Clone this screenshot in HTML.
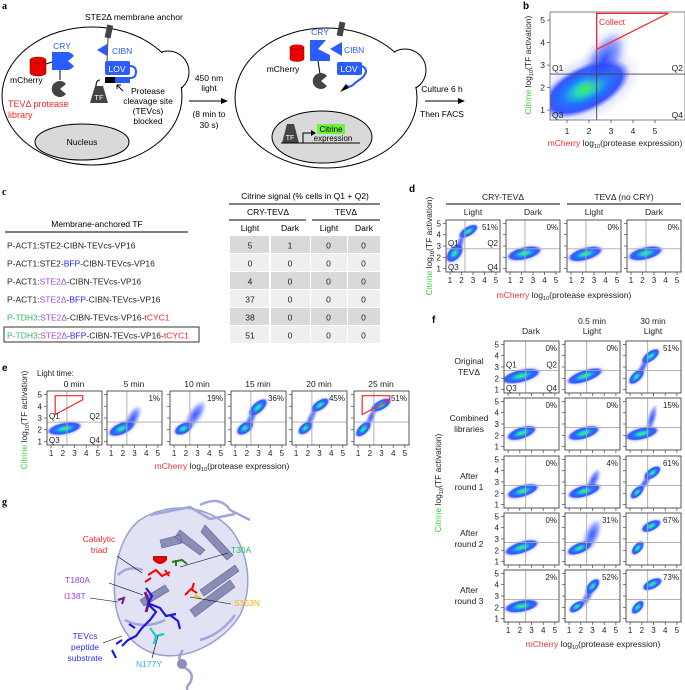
<!DOCTYPE html>
<html><head><meta charset="utf-8">
<style>
html,body{margin:0;padding:0;background:#fff;}
svg{display:block;font-family:"Liberation Sans",Arial,sans-serif;}
</style></head>
<body>
<svg id="fig" width="685" height="690" viewBox="0 0 685 690" xmlns="http://www.w3.org/2000/svg">
<defs>
<radialGradient id="dense"><stop offset="0" stop-color="#4cf03c"/><stop offset="0.22" stop-color="#22d8c0"/><stop offset="0.5" stop-color="#1f7aff"/><stop offset="0.8" stop-color="#1436ff" stop-opacity="0.8"/><stop offset="1" stop-color="#5a68ff" stop-opacity="0"/></radialGradient>
<radialGradient id="sparse"><stop offset="0" stop-color="#1e3cff" stop-opacity="0.75"/><stop offset="0.6" stop-color="#3050ff" stop-opacity="0.4"/><stop offset="1" stop-color="#6070ff" stop-opacity="0"/></radialGradient>
<radialGradient id="halo"><stop offset="0" stop-color="#2a48ff" stop-opacity="0.45"/><stop offset="0.6" stop-color="#4a60ff" stop-opacity="0.25"/><stop offset="1" stop-color="#7080ff" stop-opacity="0"/></radialGradient>
</defs>

<!-- Panel a: schematic -->
<g>
<text x="2" y="9" font-size="10" font-weight="bold" font-family="Liberation Serif">a</text>
<circle cx="168" cy="72" r="21" fill="#fff" stroke="#000"/>
<ellipse cx="92" cy="96" rx="90" ry="69" fill="#fff" stroke="#000"/>
<circle cx="168" cy="72" r="20" fill="#fff"/>
<ellipse cx="82" cy="142" rx="47" ry="18" fill="#d9d9d9" stroke="#000"/>
<text x="82" y="145" font-size="8.5" text-anchor="middle">Nucleus</text>
<text x="85" y="20" font-size="8.5">STE2Δ membrane anchor</text>
<rect x="106" y="25" width="6" height="13" fill="#444" transform="rotate(12 109 31)"/>
<line x1="108" y1="38" x2="107" y2="62" stroke="#444"/>
<text x="62" y="49" font-size="8.5" fill="#2b5cff" text-anchor="middle">CRY</text>
<path d="M52,52 h16 a9,9 0 0 1 6,4 l-6,5 l6,5 a9,9 0 0 1 -6,4 h-16 z" fill="#2b5cff"/>
<ellipse cx="38" cy="60" rx="8" ry="3" fill="#e00" stroke="#600" stroke-width="0.5"/>
<path d="M30,60 v13 a8,3 0 0 0 16,0 v-13 a8,3 0 0 1 -16,0z" fill="#e00" stroke="#600" stroke-width="0.5"/>
<line x1="46" y1="64" x2="52" y2="62" stroke="#000"/>
<text x="10" y="83" font-size="8.5">mCherry</text>
<line x1="60" y1="70" x2="60" y2="80" stroke="#000"/>
<path d="M66,84 A8,8 0 1 0 66,94 L60,89 Z" fill="#444"/>
<text x="8" y="107" font-size="9" fill="#f22">TEVΔ protease</text>
<text x="8" y="118" font-size="9" fill="#f22">library</text>
<polygon points="97,50 107,44 107,56" fill="#2b5cff"/>
<text x="112" y="54" font-size="8.5" fill="#2b5cff">CIBN</text>
<rect x="105" y="61" width="25" height="14" rx="2" fill="#2b5cff"/>
<text x="117" y="72" font-size="8.5" fill="#fff" text-anchor="middle">LOV</text>
<path d="M130,66 q6,0 6,6 q0,6 -6,6" fill="none" stroke="#2b5cff" stroke-width="2"/>
<rect x="105" y="77" width="10" height="6" fill="#000"/>
<rect x="115" y="77" width="15" height="6" fill="#2b5cff"/>
<path d="M100,80 q-4,0 -4,6" fill="none" stroke="#000"/>
<polygon points="95,86 103,86 108,103 90,103" fill="#444"/>
<text x="99" y="100" font-size="7.5" fill="#fff" text-anchor="middle">TF</text>
<path d="M123,91 l-6,-6 M117,85 l0,4 M117,85 l4,0" stroke="#000" fill="none"/>
<text x="148" y="94" font-size="8.5" text-anchor="middle">Protease</text>
<text x="148" y="104" font-size="8.5" text-anchor="middle">cleavage site</text>
<text x="148" y="114" font-size="8.5" text-anchor="middle">(TEVcs)</text>
<text x="148" y="124" font-size="8.5" text-anchor="middle">blocked</text>
<text x="209" y="81" font-size="8.5" text-anchor="middle">450 nm</text>
<text x="209" y="91" font-size="8.5" text-anchor="middle">light</text>
<line x1="189" y1="101" x2="222" y2="101" stroke="#000"/>
<polygon points="228,101 221,98 221,104"/>
<text x="209" y="117" font-size="8.5" text-anchor="middle">(8 min to</text>
<text x="209" y="128" font-size="8.5" text-anchor="middle">30 s)</text>

<circle cx="405" cy="70" r="21" fill="#fff" stroke="#000"/>
<ellipse cx="326" cy="98" rx="91" ry="70" fill="#fff" stroke="#000"/>
<circle cx="405" cy="70" r="20" fill="#fff"/>
<ellipse cx="322" cy="137" rx="50" ry="26" fill="#d9d9d9" stroke="#000"/>
<polygon points="287,124 294,124 299,143 282,143" fill="#444"/>
<text x="290" y="140" font-size="7" fill="#fff" text-anchor="middle">TF</text>
<path d="M303,143 v-10 h9" fill="none" stroke="#000"/>
<polygon points="316,133 311,130 311,136"/>
<line x1="281" y1="143" x2="360" y2="143" stroke="#000"/>
<rect x="317" y="124" width="28" height="10" fill="#6cf23c"/>
<text x="331" y="132" font-size="8" text-anchor="middle">Citrine</text>
<text x="333" y="141" font-size="8" text-anchor="middle">expression</text>
<rect x="338" y="22" width="6" height="14" fill="#444" transform="rotate(12 341 29)"/>
<text x="320" y="35" font-size="8.5" fill="#2b5cff" text-anchor="middle">CRY</text>
<path d="M310,40 h16 l-8,9 l12,6 v6 h-20 z" fill="#2b5cff"/>
<polygon points="330,49 342,42 342,56" fill="#2b5cff"/>
<text x="344" y="53" font-size="8.5" fill="#2b5cff">CIBN</text>
<ellipse cx="297" cy="47" rx="7" ry="2.5" fill="#e00"/>
<path d="M290,47 v12 a7,2.5 0 0 0 14,0 v-12 a7,2.5 0 0 1 -14,0z" fill="#e00" stroke="#600" stroke-width="0.5"/>
<text x="283" y="72" font-size="8.5" text-anchor="middle">mCherry</text>
<line x1="318" y1="61" x2="320" y2="74" stroke="#000"/>
<path d="M327,76 A8,8 0 1 0 327,86 L321,81 Z" fill="#444"/>
<rect x="337" y="62" width="25" height="13" rx="2" fill="#2b5cff"/>
<text x="349" y="72" font-size="8.5" fill="#fff" text-anchor="middle">LOV</text>
<path d="M362,66 q8,4 0,12 q-6,4 -8,6 q-4,4 -8,2" fill="none" stroke="#2b5cff" stroke-width="2.2"/>
<polygon points="346,84 340,92 349,88" fill="#000"/>
<text x="442" y="92" font-size="8.5" text-anchor="middle">Culture 6 h</text>
<line x1="425" y1="101" x2="459" y2="101" stroke="#000"/>
<polygon points="465,101 458,98 458,104"/>
<text x="442" y="117" font-size="8.5" text-anchor="middle">Then FACS</text>
</g>

<!-- Panel c table -->
<g id="tableC">
<text x="2" y="195" font-size="10" font-weight="bold" font-family="Liberation Serif">c</text>
<text x="305" y="199" font-size="8.5" text-anchor="middle">Citrine signal (% cells in Q1 + Q2)</text>
<line x1="229" y1="204" x2="380" y2="204" stroke="#000"/>
<text x="268" y="215" font-size="8.5" text-anchor="middle">CRY-TEVΔ</text>
<line x1="229" y1="220" x2="306" y2="220" stroke="#000"/>
<text x="346" y="215" font-size="8.5" text-anchor="middle">TEVΔ</text>
<line x1="312" y1="220" x2="380" y2="220" stroke="#000"/>
<text x="250" y="231" font-size="8.5" text-anchor="middle">Light</text>
<text x="290" y="231" font-size="8.5" text-anchor="middle">Dark</text>
<text x="329" y="231" font-size="8.5" text-anchor="middle">Light</text>
<text x="364" y="231" font-size="8.5" text-anchor="middle">Dark</text>
<text x="97" y="227" font-size="8.5" text-anchor="middle">Membrane-anchored TF</text>
<line x1="5" y1="232" x2="188" y2="232" stroke="#000"/>
</g>

<!-- Panel g protein -->
<g>
<text x="2" y="505" font-size="10" font-weight="bold" font-family="Liberation Serif">g</text>
<path d="M140,520 C120,535 112,570 115,600 C118,630 135,650 160,655 C190,660 225,640 240,615 C252,590 250,560 235,535 C215,505 170,500 140,520Z" fill="#c9cbea" fill-opacity="0.55" stroke="#9a9ed0" stroke-width="1.5"/>
<path d="M150,515 l40,-8 l20,12 l25,-5 M200,505 q20,-10 30,5 l20,10 M118,575 q10,-10 25,-5 M125,620 q20,10 40,0 M200,640 q20,-5 35,-25" fill="none" stroke="#a3a7d8" stroke-width="2.5"/>
<path d="M180,530 l25,20 l-5,5 l-25,-18z M205,525 l28,30 l-6,5 l-26,-28z M160,540 l20,-5 l2,8 l-20,5z M140,600 l25,-15 l4,6 l-25,15z M190,610 l40,-30 l5,7 l-40,30z M200,590 l35,-25 l4,6 l-35,25z" fill="#8a8db5" stroke="#5f6290" stroke-width="0.6"/>
<path d="M183,650 q-8,10 2,18 q10,5 5,15 q-5,5 -2,7" fill="none" stroke="#9ea2d4" stroke-width="2.5"/>
<circle cx="182" cy="664" r="5" fill="#8a8ec0"/>
<path d="M153,560 q7,8 14,0 v-4 h-14z" fill="#d00"/>
<path d="M148,575 l8,-5 l6,6 l8,-4 M145,582 l6,-4 M165,570 l4,6" stroke="#f00" stroke-width="2" fill="none"/>
<path d="M185,595 l6,-6 l6,4 M192,589 l2,-6" stroke="#f00" stroke-width="2" fill="none"/>
<path d="M195,595 l6,4" stroke="#f0c000" stroke-width="2"/>
<path d="M172,562 l10,-2 l5,4 M176,560 l0,6" stroke="#2a7a2a" stroke-width="2" fill="none"/>
<path d="M145,592 l4,10 l-3,10" stroke="#7a1a7a" stroke-width="3" fill="none"/>
<path d="M118,600 l6,-2 l-2,6" stroke="#7a1a7a" stroke-width="2" fill="none"/>
<path d="M146,588 l6,8 l-4,8 l8,8 l-6,8 l-8,8 l-6,8 l-8,4 l-6,6 M150,604 l10,4 l6,8 l10,-2 M135,628 l-6,-4 M122,640 l-6,4 M112,650 l4,8 M170,615 l8,6 l2,8" stroke="#1a1ad8" stroke-width="2.2" fill="none"/>
<path d="M150,628 l6,8 l8,-2 M156,636 l-2,8" stroke="#20c8c8" stroke-width="2.2" fill="none"/>
<text x="99" y="542" font-size="8.5" fill="#f22" text-anchor="middle">Catalytic</text>
<text x="99" y="553" font-size="8.5" fill="#f22" text-anchor="middle">triad</text>
<line x1="117" y1="556" x2="142" y2="573" stroke="#000" stroke-width="0.6"/>
<text x="231" y="553" font-size="8.5" fill="#2fb868">T30A</text>
<line x1="228" y1="553" x2="180" y2="567" stroke="#000" stroke-width="0.6"/>
<text x="65" y="583" font-size="8.5" fill="#a040e0">T180A</text>
<line x1="109" y1="583" x2="143" y2="595" stroke="#000" stroke-width="0.6"/>
<text x="64" y="599" font-size="8.5" fill="#a040e0">I138T</text>
<line x1="90" y1="598" x2="118" y2="602" stroke="#000" stroke-width="0.6"/>
<text x="234" y="606" font-size="8.5" fill="#f0b800">S153N</text>
<line x1="231" y1="604" x2="190" y2="597" stroke="#000" stroke-width="0.6"/>
<text x="85" y="639" font-size="8.5" fill="#3030ff" text-anchor="middle">TEVcs</text>
<text x="85" y="650" font-size="8.5" fill="#3030ff" text-anchor="middle">peptide</text>
<text x="85" y="661" font-size="8.5" fill="#3030ff" text-anchor="middle">substrate</text>
<line x1="103" y1="643" x2="122" y2="636" stroke="#000" stroke-width="0.6"/>
<text x="149" y="667" font-size="8.5" fill="#20b8e8" text-anchor="middle">N177Y</text>
<line x1="152" y1="658" x2="158" y2="636" stroke="#000" stroke-width="0.6"/>
</g>
</svg>

<script>
// ---------- data ----------
const tableRows = ['P-ACT1:STE2-CIBN-TEVcs-VP16','P-ACT1:STE2-BFP-CIBN-TEVcs-VP16','P-ACT1:STE2Δ-CIBN-TEVcs-VP16','P-ACT1:STE2Δ-BFP-CIBN-TEVcs-VP16','P-TDH3:STE2Δ-CIBN-TEVcs-VP16-tCYC1','P-TDH3:STE2Δ-BFP-CIBN-TEVcs-VP16-tCYC1'];
const tableCryLight = [5, 0, 4, 37, 38, 51];
const tableCryDark = [1, 0, 0, 0, 0, 0];
const tableTevLight = [0, 0, 0, 0, 0, 0];
const tableTevDark = [0, 0, 0, 0, 0, 0];

const axisTicks = [1, 2, 3, 4, 5];
// cluster = [x1,y1,x2,y2,width,dense]  (log10 units)
const bClusters = [[0.7,1.4,3.0,2.5,1.1,1],[2.3,2.6,3.1,3.9,0.7,0]];
const bGate = [[2.35,5.3],[5.6,5.3],[2.35,3.7]];
const bThreshX = 2.35, bThreshY = 2.6;

const dGroups = ['CRY-TEVΔ','TEVΔ (no CRY)'];
const dConds = ['Light','Dark','Light','Dark'];
const dPct = [51, 0, 0, 0];
const dClusters = [
  [[1.1,2.0,1.7,2.7,0.6,1],[2.1,4.0,3.1,4.6,0.45,1],[1.7,2.7,2.1,3.9,0.3,0]],
  [[1.2,2.1,3.3,2.6,0.6,1]],
  [[1.2,2.0,3.3,2.6,0.6,1]],
  [[1.2,2.1,3.3,2.6,0.6,1]]
];

const eTimes = ['0 min','5 min','10 min','15 min','20 min','25 min'];
const ePct = [null, 1, 19, 36, 45, 51];
const eClusters = [
  [[1.1,1.9,3.2,2.3,0.55,1]],
  [[1.2,1.8,2.6,2.4,0.55,1],[2.5,2.3,3.2,3.6,0.5,0]],
  [[1.4,1.9,2.2,2.3,0.5,1],[2.3,2.5,3.3,4.0,0.55,0]],
  [[1.5,1.9,2.2,2.4,0.5,1],[2.5,3.5,3.4,4.3,0.5,1],[2.1,2.4,2.6,3.4,0.35,0]],
  [[1.5,1.9,2.1,2.4,0.45,1],[2.6,3.8,3.5,4.4,0.45,1],[2.0,2.4,2.6,3.7,0.3,0]],
  [[1.1,1.7,1.8,2.4,0.45,1],[2.4,3.8,3.5,4.4,0.45,1],[1.8,2.4,2.4,3.7,0.3,0]]
];
const eGate = [[1.35,4.9],[3.7,4.9],[3.7,4.55],[1.35,3.3]];

const fCols = ['Dark','0.5 min|Light','30 min|Light'];
const fRows = ['Original|TEVΔ','Combined|libraries','After|round 1','After|round 2','After|round 3'];
const fPct = [[0,0,51],[0,0,15],[0,4,61],[0,31,67],[2,52,73]];
const fClusters = [
  [[[0.9,1.9,3.3,2.5,0.6,1]], [[1.2,1.8,3.5,2.6,0.55,1]], [[1.2,1.8,1.9,2.5,0.45,1],[2.3,3.6,3.2,4.3,0.45,1],[1.8,2.5,2.4,3.5,0.3,0]]],
  [[[1.3,1.9,3.0,2.5,0.55,1]], [[1.3,1.9,3.2,2.5,0.55,1]], [[1.0,1.9,3.0,2.4,0.55,1],[2.6,2.6,3.1,4.4,0.35,0]]],
  [[[1.3,1.9,3.2,2.5,0.55,1]], [[1.3,1.9,3.3,2.5,0.55,1],[2.8,2.6,3.4,3.8,0.4,0]], [[1.3,1.8,1.9,2.4,0.4,1],[2.5,3.5,3.3,4.1,0.45,1],[1.9,2.4,2.6,3.4,0.3,0]]],
  [[[1.1,1.9,3.2,2.6,0.55,1]], [[1.2,1.9,2.6,2.5,0.5,1],[2.6,2.5,3.3,4.2,0.6,0]], [[1.4,1.9,1.9,2.5,0.4,1],[2.3,3.9,3.3,4.4,0.45,1]]],
  [[[1.1,1.9,3.2,2.3,0.55,1]], [[1.3,1.8,2.0,2.3,0.4,1],[2.7,3.5,3.3,4.2,0.45,1],[2.2,2.3,2.9,3.5,0.35,0]], [[1.4,1.7,1.9,2.3,0.4,1],[2.4,3.8,3.4,4.3,0.45,1]]]
];

// ---------- helpers ----------
const NS = 'http://www.w3.org/2000/svg';
const svg = document.getElementById('fig');
function el(tag, attrs, name, parent) {
  const e = document.createElementNS(NS, tag);
  for (const k in attrs) e.setAttribute(k, attrs[k]);
  
  
  (parent || svg).appendChild(e);
  return e;
}
function txt(x, y, s, size, fill, anchor, name, parent) {
  const t = el('text', {x: x, y: y, 'font-size': size, fill: fill || '#222', 'text-anchor': anchor || 'start'}, name, parent);
  t.textContent = s;
  return t;
}
function scale(px, py, w, h, dom) {
  return {
    x: v => px + (v - dom[0]) / (dom[1] - dom[0]) * w,
    y: v => py + h - (v - dom[2]) / (dom[3] - dom[2]) * h
  };
}
function drawCluster(c, s, g) {
  const x1 = s.x(c[0]), y1 = s.y(c[1]), x2 = s.x(c[2]), y2 = s.y(c[3]);
  const wpx = Math.abs(s.x(c[4]) - s.x(0));
  const len = Math.hypot(x2 - x1, y2 - y1);
  const ang = Math.atan2(y2 - y1, x2 - x1) * 180 / Math.PI;
  const cx = (x1 + x2) / 2, cy = (y1 + y2) / 2;
  const rot = 'rotate(' + ang + ' ' + cx + ' ' + cy + ')';
  el('ellipse', {cx: cx, cy: cy, rx: len / 2 + wpx * 1.3, ry: wpx * 1.35, fill: 'url(#halo)', transform: rot}, 'population-halo', g);
  el('ellipse', {cx: cx, cy: cy, rx: len / 2 + wpx * 0.85, ry: wpx * 0.95, fill: 'url(#' + (c[5] ? 'dense' : 'sparse') + ')', transform: rot}, 'cell-population', g);
}
function vlabel(x, y, size, name) {
  const t = el('text', {x: x, y: y, 'font-size': size, 'text-anchor': 'middle', transform: 'rotate(-90 ' + x + ' ' + y + ')', fill: '#222'}, name);
  const a = el('tspan', {fill: '#3ad23a'}, 'citrine-word', t); a.textContent = 'Citrine ';
  const b = el('tspan', {}, 'log-word', t); b.textContent = 'log';
  const c = el('tspan', {'font-size': size * 0.65, dy: 2}, 'log-subscript', t); c.textContent = '10';
  const d = el('tspan', {dy: -2}, 'tf-activation-word', t); d.textContent = '(TF activation)';
}
function hlabel(x, y, size, name) {
  const t = el('text', {x: x, y: y, 'font-size': size, 'text-anchor': 'middle', fill: '#222'}, name);
  const a = el('tspan', {fill: '#f03030'}, 'mcherry-word', t); a.textContent = 'mCherry ';
  const b = el('tspan', {}, 'log-word', t); b.textContent = 'log';
  const c = el('tspan', {'font-size': size * 0.65, dy: 2}, 'log-subscript', t); c.textContent = '10';
  const d = el('tspan', {dy: -2}, 'protease-word', t); d.textContent = '(protease expression)';
}
const smallDom = [0.65, 5.35, 0.7, 5.3];
function panel(o) {
  const g = el('g', {}, o.name);
  const s = scale(o.x, o.y, o.w, o.h, o.dom || smallDom);
  const clipId = 'clip' + Math.round(o.x) + '_' + Math.round(o.y);
  const cp = el('clipPath', {id: clipId}, 'panel-clip', g);
  el('rect', {x: o.x, y: o.y, width: o.w, height: o.h}, 'clip-rect', cp);
  const inner = el('g', {'clip-path': 'url(#' + clipId + ')'}, 'plot-area', g);
  o.clusters.forEach(c => drawCluster(c, s, inner));
  el('line', {x1: o.x, x2: o.x + o.w, y1: s.y(o.ty), y2: s.y(o.ty), stroke: o.dark ? '#444' : '#aaa', 'stroke-width': 0.9}, 'threshold-horizontal', inner);
  el('line', {y1: o.y, y2: o.y + o.h, x1: s.x(o.tx), x2: s.x(o.tx), stroke: o.dark ? '#444' : '#aaa', 'stroke-width': 0.9}, 'threshold-vertical', inner);
  if (o.gate) el('polygon', {points: o.gate.map(p => s.x(p[0]) + ',' + s.y(p[1])).join(' '), fill: 'none', stroke: '#f22', 'stroke-width': 1.2}, 'collect-gate', inner);
  el('rect', {x: o.x, y: o.y, width: o.w, height: o.h, fill: 'none', stroke: o.dark ? '#777' : '#444', 'stroke-width': 0.9}, 'panel-frame', g);
  const fs = o.fs || 8;
  axisTicks.forEach(v => {
    el('line', {x1: o.x - 3, x2: o.x, y1: s.y(v), y2: s.y(v), stroke: '#444', 'stroke-width': 0.7}, 'y-tick', g);
    if (o.yl) txt(o.x - 5, s.y(v) + 3, String(v), fs, '#222', 'end', 'y-tick-label', g);
    el('line', {y1: o.y + o.h, y2: o.y + o.h + 3, x1: s.x(v), x2: s.x(v), stroke: '#444', 'stroke-width': 0.7}, 'x-tick', g);
    if (o.xl) txt(s.x(v), o.y + o.h + (o.xOff || 11), String(v), fs, '#222', 'middle', 'x-tick-label', g);
  });
  if (o.pct !== null && o.pct !== undefined) txt(o.x + o.w - 2, o.y + 10, o.pct + '%', 8, '#222', 'end', 'percent-label', g);
  if (o.quads) {
    txt(o.x + 2, s.y(o.ty) - 3, 'Q1', fs, '#222', 'start', 'q1-label', g);
    txt(o.x + o.w - 2, s.y(o.ty) - 3, 'Q2', fs, '#222', 'end', 'q2-label', g);
    txt(o.x + 2, o.y + o.h - 2, 'Q3', fs, '#222', 'start', 'q3-label', g);
    txt(o.x + o.w - 2, o.y + o.h - 2, 'Q4', fs, '#222', 'end', 'q4-label', g);
  }
  return g;
}

// ---------- table c ----------
const tg = document.getElementById('tableC');
const colX = [230, 270, 310, 347, 380];
const colored = {'STE2Δ': '#9a4cd6', 'BFP': '#2424ff', 'tCYC1': '#f22', 'P-TDH3': '#2fb868'};
tableRows.forEach((r, i) => {
  const top = 236 + i * 18;
  const vals = [tableCryLight[i], tableCryDark[i], tableTevLight[i], tableTevDark[i]];
  vals.forEach((v, j) => {
    el('rect', {x: colX[j] + (j ? 1 : 0), y: top, width: colX[j + 1] - colX[j] - 1, height: 17, fill: i % 2 ? '#efefef' : '#d9d9d9'}, 'table-cell-bg', tg);
    txt((colX[j] + colX[j + 1]) / 2, top + 12.5, String(v), 8.5, '#222', 'middle', 'table-value', tg);
  });
  const t = el('text', {x: 7, y: top + 12.5, 'font-size': 8.5, fill: '#222'}, 'construct-name', tg);
  r.split(/(STE2Δ|BFP|tCYC1|P-TDH3)/).forEach(part => {
    if (!part) return;
    const sp = el('tspan', {fill: colored[part] || '#222'}, 'construct-part', t);
    sp.textContent = part;
  });
  if (i === 5) el('rect', {x: 4, y: top + 1, width: 195, height: 15, fill: 'none', stroke: '#333'}, 'highlight-box', tg);
});

// ---------- panel b ----------
txt(523, 9, 'b', 10, '#000', 'start', 'label-b').setAttribute('font-weight', 'bold');
panel({name: 'panel-b-plot', x: 550, y: 12, w: 135, h: 108, dom: [0.23, 6.36, 0.56, 5.36], clusters: bClusters, tx: bThreshX, ty: bThreshY, dark: true, gate: bGate, yl: true, xl: true, quads: true, fs: 8.5, xOff: 14});
txt(599, 25, 'Collect', 8.5, '#f22', 'start', 'collect-label');
vlabel(531, 65, 8.5, 'panel-b-y-title');
hlabel(615, 146, 8.5, 'panel-b-x-title');

// ---------- panel d ----------
txt(409, 192, 'd', 10, '#000', 'start', 'label-d').setAttribute('font-weight', 'bold');
const dX = [446, 506, 567, 627];
dGroups.forEach((gname, gi) => {
  const cx = (dX[gi * 2] + dX[gi * 2 + 1] + 54) / 2;
  txt(cx, 200, gname, 8.5, '#222', 'middle', 'group-title');
  el('line', {x1: dX[gi * 2], x2: dX[gi * 2 + 1] + 54, y1: 204, y2: 204, stroke: '#000'}, 'group-rule');
});
dConds.forEach((c, i) => {
  txt(dX[i] + 27, 215, c, 8.5, '#222', 'middle', 'condition-title');
  panel({name: 'panel-d-' + i, x: dX[i], y: 220, w: 54, h: 52, clusters: dClusters[i], tx: 2.3, ty: 2.75, pct: dPct[i], yl: i === 0, xl: true, quads: i === 0});
});
vlabel(432, 246, 8.5, 'panel-d-y-title');
hlabel(564, 298, 8.5, 'panel-d-x-title');

// ---------- panel e ----------
txt(2, 371, 'e', 10, '#000', 'start', 'label-e').setAttribute('font-weight', 'bold');
txt(37, 376, 'Light time:', 8, '#222', 'start', 'light-time-label');
const eX = [47, 107, 170, 231, 292, 354];
eTimes.forEach((tm, i) => {
  txt(eX[i] + 27, 387, tm, 8.5, '#222', 'middle', 'time-title');
  panel({name: 'panel-e-' + i, x: eX[i], y: 391, w: 55, h: 54, clusters: eClusters[i], tx: 2.35, ty: 2.65, pct: ePct[i], gate: (i === 0 || i === 5) ? eGate : null, yl: i === 0, xl: true, quads: i === 0});
});
vlabel(27, 420, 8.5, 'panel-e-y-title');
hlabel(222, 469, 8.5, 'panel-e-x-title');

// ---------- panel f ----------
txt(432, 323, 'f', 10, '#000', 'start', 'label-f').setAttribute('font-weight', 'bold');
const fX = [504, 565, 626];
const fY = [341, 398, 456, 513, 570];
fCols.forEach((c, j) => {
  const parts = c.split('|');
  if (parts.length === 1) txt(fX[j] + 27, 334, parts[0], 8.5, '#222', 'middle', 'column-title');
  else { txt(fX[j] + 27, 324, parts[0], 8.5, '#222', 'middle', 'column-title'); txt(fX[j] + 27, 334, parts[1], 8.5, '#222', 'middle', 'column-title'); }
});
fRows.forEach((r, i) => {
  const parts = r.split('|');
  txt(469, fY[i] + 23, parts[0], 8.5, '#222', 'middle', 'row-title');
  txt(469, fY[i] + 34, parts[1], 8.5, '#222', 'middle', 'row-title');
  fCols.forEach((c, j) => {
    panel({name: 'panel-f-' + i + '-' + j, x: fX[j], y: fY[i], w: 55, h: 52, clusters: fClusters[i][j], tx: 2.5, ty: 2.7, pct: fPct[i][j], yl: j === 0, xl: i === 4, quads: i === 0 && j === 0});
  });
});
vlabel(441, 483, 8.5, 'panel-f-y-title');
hlabel(593, 647, 8.5, 'panel-f-x-title');
</script>
</body></html>
